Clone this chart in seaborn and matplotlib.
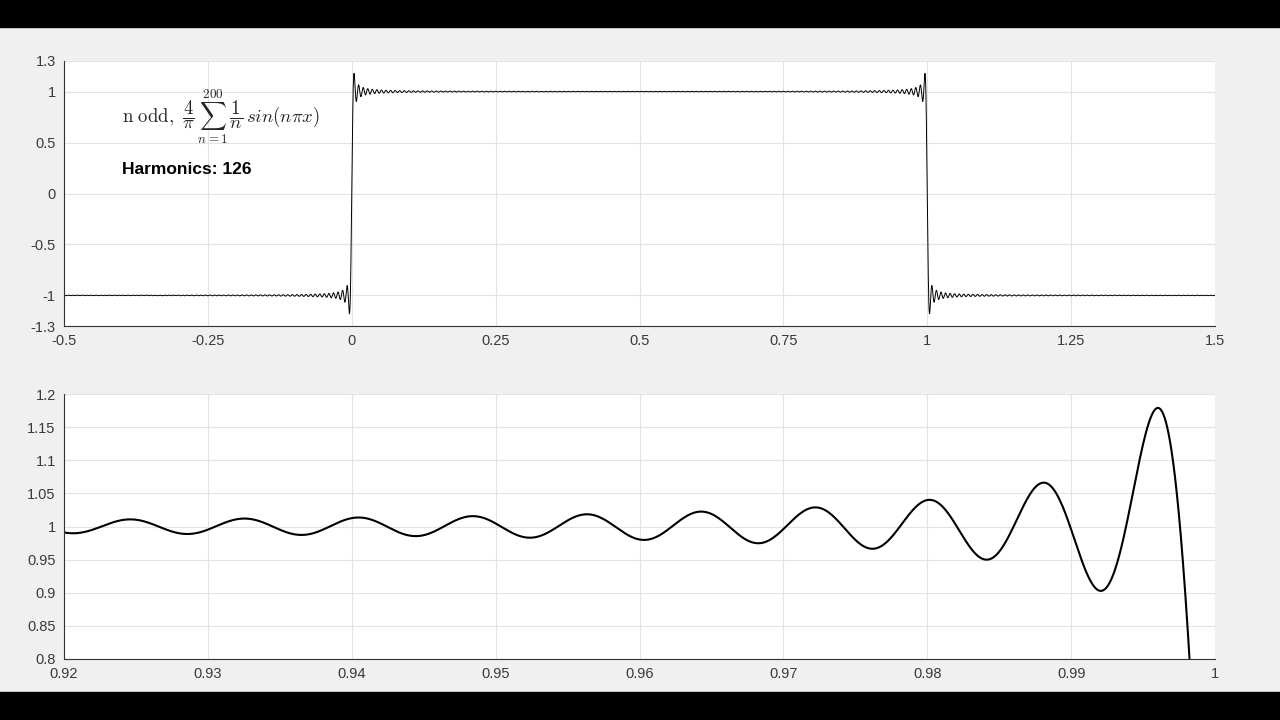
import numpy as np
import pandas as pd
import seaborn as sns
import matplotlib
matplotlib.use("Agg")
from matplotlib import pyplot as plt
from matplotlib.patches import Rectangle

# series definition: 126 odd harmonics of the square wave
n_harmonics = 126
odd_n = np.arange(1, 2 * n_harmonics, 2)

top_xlim = (-0.5, 1.5)
top_xticks = [-0.5, -0.25, 0, 0.25, 0.5, 0.75, 1, 1.25, 1.5]
top_xlabels = ["-0.5", "-0.25", "0", "0.25", "0.5", "0.75", "1", "1.25", "1.5"]
top_yticks = [-1.3, -1, -0.5, 0, 0.5, 1, 1.3]
top_ylabels = ["-1.3", "-1", "-0.5", "0", "0.5", "1", "1.3"]

zoom_xlim = (0.92, 1.0)
zoom_xticks = [0.92, 0.93, 0.94, 0.95, 0.96, 0.97, 0.98, 0.99, 1.0]
zoom_xlabels = ["0.92", "0.93", "0.94", "0.95", "0.96", "0.97", "0.98", "0.99", "1"]
zoom_yticks = [0.8, 0.85, 0.9, 0.95, 1.0, 1.05, 1.1, 1.15, 1.2]
zoom_ylabels = ["0.8", "0.85", "0.9", "0.95", "1", "1.05", "1.1", "1.15", "1.2"]


def partial_sum(x):
    return 4 / np.pi * np.sum(np.sin(np.outer(x, odd_n) * np.pi) / odd_n, axis=1)


x_top = np.linspace(top_xlim[0], top_xlim[1], 20001)
x_zoom = np.linspace(zoom_xlim[0], zoom_xlim[1], 4001)
top_df = pd.DataFrame({"x": x_top, "y": partial_sum(x_top)})
zoom_df = pd.DataFrame({"x": x_zoom, "y": partial_sum(x_zoom)})

sns.set_theme(style="whitegrid")
plt.rcParams["font.family"] = ["Liberation Sans", "DejaVu Sans"]
plt.rcParams["axes.unicode_minus"] = False
plt.rcParams["mathtext.fontset"] = "cm"

fig = plt.figure(figsize=(12.8, 7.2), dpi=100, facecolor="#f0f0f0")
ax1 = fig.add_axes([64 / 1280, 1 - 326 / 720, 1151 / 1280, 265 / 720])
ax2 = fig.add_axes([64 / 1280, 1 - 659 / 720, 1151 / 1280, 265 / 720])

sns.lineplot(data=top_df, x="x", y="y", ax=ax1, color="black", linewidth=0.7, estimator=None)
sns.lineplot(data=zoom_df, x="x", y="y", ax=ax2, color="black", linewidth=1.5, estimator=None)


def style_axes(ax, xlim, ylim, xticks, xlabels, yticks, ylabels):
    ax.set_facecolor("white")
    ax.set_xlim(*xlim)
    ax.set_ylim(*ylim)
    ax.set_xticks(xticks)
    ax.set_xticklabels(xlabels)
    ax.set_yticks(yticks)
    ax.set_yticklabels(ylabels)
    ax.set_xlabel("")
    ax.set_ylabel("")
    ax.grid(True, color="#e3e3e3", linewidth=0.8)
    for side in ["top", "right"]:
        ax.spines[side].set_visible(False)
    for side in ["left", "bottom"]:
        ax.spines[side].set_visible(True)
        ax.spines[side].set_color("#333333")
        ax.spines[side].set_linewidth(0.8)
    ax.tick_params(direction="in", length=5, width=0.8, color="#333333",
                   labelcolor="#3a3a3a", labelsize=10.5, pad=6)


style_axes(ax1, top_xlim, (-1.3, 1.3), top_xticks, top_xlabels, top_yticks, top_ylabels)
style_axes(ax2, zoom_xlim, (0.8, 1.2), zoom_xticks, zoom_xlabels, zoom_yticks, zoom_ylabels)

ax1.text(-0.40, 0.75,
         r"$\mathrm{n\ odd,}\ \dfrac{4}{\pi}\,\sum_{n=1}^{200}\,\dfrac{1}{n}\,sin(n\pi x)$",
         fontsize=13.5, color="#262626", va="center", ha="left")
ax1.text(-0.40, 0.24, "Harmonics: 126", fontsize=12.5, fontweight="bold",
         color="black", va="center", ha="left")

# letterbox bars
fig.patches.append(Rectangle((0, 1 - 27 / 720), 1, 27 / 720, transform=fig.transFigure,
                             color="black", zorder=10))
fig.patches.append(Rectangle((0, 0), 1, 28 / 720, transform=fig.transFigure,
                             color="black", zorder=10))

fig.savefig("out.png", dpi=100, facecolor=fig.get_facecolor())
